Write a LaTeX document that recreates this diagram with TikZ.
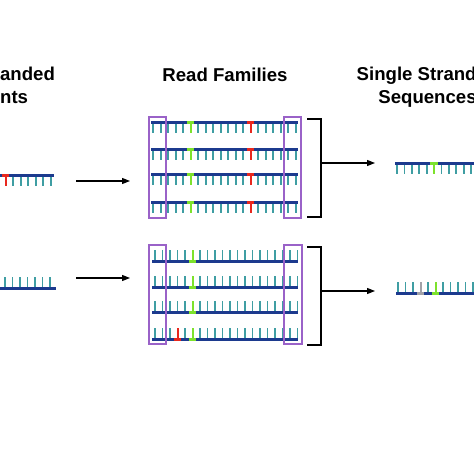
\documentclass[tikz,border=0pt]{standalone}
\usepackage{fontspec}
\setmainfont{Liberation Sans}
\usetikzlibrary{arrows.meta}
\definecolor{navy}{HTML}{1C3A8E}
\definecolor{tealtick}{HTML}{3F9EA3}
\definecolor{mutred}{HTML}{E8281E}
\definecolor{mutgreen}{HTML}{7DE22C}
\definecolor{mutgrey}{HTML}{A2A2A8}
\definecolor{boxpurple}{HTML}{9A62C8}
% #1 y, #2 x0, #3 x1, #4 first tick, #5 spacing, #6 count, #7 tick length (signed)
\newcommand\strandrow[7]{%
  \foreach \k in {1,...,#6} \draw[tickline] ({#4+#5*(\k-1)},#1) -- ++(0,#7);
  \draw[backbone] (#2,#1) -- (#3,#1);}
% #1 x, #2 y, #3 colour, #4 tick length (signed)
\newcommand\mutmark[4]{%
  \draw[line width=3pt,draw=#3] ({#1-3.6},#2) -- ({#1+3.6},#2);
  \draw[line width=2pt,draw=#3] (#1,#2) -- ++(0,#4);}
\begin{document}
\begin{tikzpicture}[x=1pt,y=-1pt,
  backbone/.style={line width=3pt,draw=navy},
  tickline/.style={line width=1.8pt,draw=tealtick},
  famframe/.style={line width=1.2pt,draw=boxpurple},
  bracketline/.style={line width=1.3pt,draw=black},
  flowarrow/.style={line width=1.2pt,draw=black,-{Triangle[length=8pt,width=6pt]}},
  titletext/.style={font=\bfseries\fontsize{18.6}{22}\selectfont,anchor=base,inner sep=0pt}]
\useasboundingbox (0,0) rectangle (474,474);
\clip (0,0) rectangle (474,474);

% titles
\node[titletext] (t1a) at (-19.5,80) {Double Stranded};
\node[titletext] (t1b) at (-19.5,103) {Fragments};
\node[titletext] (t2) at (225,81) {Read Families};
\node[titletext] (t3a) at (427.5,80) {Single Stranded};
\node[titletext] (t3b) at (427.5,103) {Sequences};

% left fragments
\strandrow{175}{-5}{54}{-1.8}{7.5}{8}{11}
\mutmark{5.7}{175}{mutred}{11}
\strandrow{288}{-5}{56}{-2.5}{7.5}{8}{-11}

% top read family
\foreach \yy in {122,149,174,202} {
  \strandrow{\yy}{151}{298}{153.3}{7.5}{20}{11}
  \mutmark{190.8}{\yy}{mutgreen}{11}
  \mutmark{250.8}{\yy}{mutred}{11}
}
% bottom read family
\foreach \yy in {261,287,312,339} {
  \strandrow{\yy}{152}{298}{155}{7.5}{20}{-11}
  \mutmark{192.5}{\yy}{mutgreen}{-11}
}
\mutmark{177.5}{339}{mutred}{-11}

% frames
\draw[famframe] (149,117) rectangle (166,218);
\draw[famframe] (284,117) rectangle (301,218);
\draw[famframe] (149,245) rectangle (166,344);
\draw[famframe] (284,245) rectangle (302,344);

% brackets
\draw[bracketline] (307,119) -- (321,119) -- (321,217) -- (307,217);
\draw[bracketline] (307,247) -- (321,247) -- (321,345) -- (307,345);

% single strand sequences
\strandrow{163}{395}{480}{397}{7.4}{11}{11}
\mutmark{434}{163}{mutgreen}{11}
\strandrow{293}{396}{480}{398}{7.5}{11}{-11}
\mutmark{420.5}{293}{mutgrey}{-11}
\mutmark{435.5}{293}{mutgreen}{-11}

% arrows
\coordinate (a1s) at (76,181);  \coordinate (a1e) at (130,181);
\coordinate (a2s) at (76,278);  \coordinate (a2e) at (130,278);
\coordinate (a3s) at (321,163); \coordinate (a3e) at (375,163);
\coordinate (a4s) at (321,291); \coordinate (a4e) at (375,291);
\draw[flowarrow] (a1s) -- (a1e);
\draw[flowarrow] (a2s) -- (a2e);
\draw[flowarrow] (a3s) -- (a3e);
\draw[flowarrow] (a4s) -- (a4e);
\end{tikzpicture}
\end{document}
